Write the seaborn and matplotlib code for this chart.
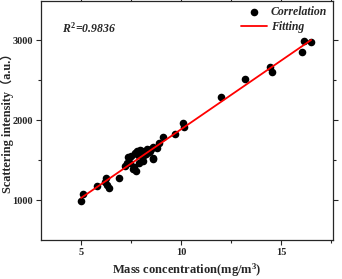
import numpy as np
import pandas as pd
import matplotlib
matplotlib.use("Agg")
import matplotlib.pyplot as plt
import seaborn as sns

# Datos
masa = [5.0, 5.1, 5.8, 6.2, 6.25, 6.3, 6.4, 6.9, 7.2, 7.3, 7.35, 7.45, 7.6, 7.75,
        7.8, 7.85, 7.9, 7.95, 8.0, 8.1, 8.2, 8.3, 8.4, 8.45, 8.6, 8.6, 8.6, 8.8,
        8.9, 9.1, 9.7, 10.1, 10.15, 7.5, 7.7, 8.05, 8.15, 7.65, 8.25, 8.5,
        12.0, 13.2, 14.45, 14.55, 16.05, 16.15, 16.5]
intensidad = [990, 1075, 1175, 1225, 1270, 1190, 1150, 1270, 1425, 1460, 1535, 1470,
              1385, 1360, 1610, 1570, 1470, 1630, 1550, 1490, 1590, 1640, 1600, 1610,
              1520, 1660, 1530, 1655, 1710, 1795, 1830, 1970, 1920, 1550, 1590,
              1620, 1560, 1420, 1580, 1640,
              2290, 2515, 2665, 2600, 2850, 2990, 2975]

df = pd.DataFrame({"masa": masa, "intensidad": intensidad})

sns.set_style("ticks")
plt.rcParams["font.family"] = ["Liberation Serif", "Noto Sans CJK SC"]
plt.rcParams["font.weight"] = "bold"
plt.rcParams["mathtext.fontset"] = "custom"
plt.rcParams["mathtext.rm"] = "Liberation Serif:bold"
plt.rcParams["mathtext.it"] = "Liberation Serif:bold:italic"

fig = plt.figure(figsize=(3.42, 2.79), dpi=100)
ax = fig.add_axes([0.12, 0.14, 0.854, 0.858])

sns.scatterplot(data=df, x="masa", y="intensidad", ax=ax, color="black",
                s=30, edgecolor="black", linewidth=0, label="Correlation", zorder=3)

# Ajuste lineal
pendiente, corte = np.polyfit(df["masa"], df["intensidad"], 1)
xs = np.array([df["masa"].min(), df["masa"].max()])
ax.plot(xs, pendiente * xs + corte, color="red", lw=1.3, label="Fitting", zorder=4)

ax.set_xlim(3, 17.6)
ax.set_ylim(500, 3500)
ax.set_xticks([5, 10, 15])
ax.set_xticks([7.5, 12.5, 17.5], minor=True)
ax.set_yticks([1000, 2000, 3000])
ax.set_yticks([1500, 2500], minor=True)
ax.tick_params(which="both", direction="out", top=True, right=True,
               labelsize=7.5, width=0.8, pad=2.5)
ax.tick_params(which="major", length=3.5)
ax.tick_params(which="minor", length=2)
for lab in ax.get_xticklabels() + ax.get_yticklabels():
    lab.set_fontweight("bold")
for sp in ax.spines.values():
    sp.set_visible(True)
    sp.set_linewidth(0.9)

ax.set_xlabel("Mass concentration(mg/m$^3$)", fontsize=9, fontweight="bold")
ax.set_ylabel("Scattering intensity（a.u.）", fontsize=8.8, fontweight="bold")
ax.xaxis.set_label_coords(0.5, -0.09)
ax.yaxis.set_label_coords(-0.094, 0.5)

ax.text(4.05, 3150, "$R^2$=0.9836", fontsize=8.5, fontweight="bold", style="italic",
        va="center")

leg = ax.legend(loc="upper right", frameon=False, handlelength=2.2,
                borderaxespad=0.1, labelspacing=0.2, handletextpad=0.3,
                prop={"weight": "bold", "style": "italic", "size": 8.5})

fig.savefig("out.png", dpi=100)
